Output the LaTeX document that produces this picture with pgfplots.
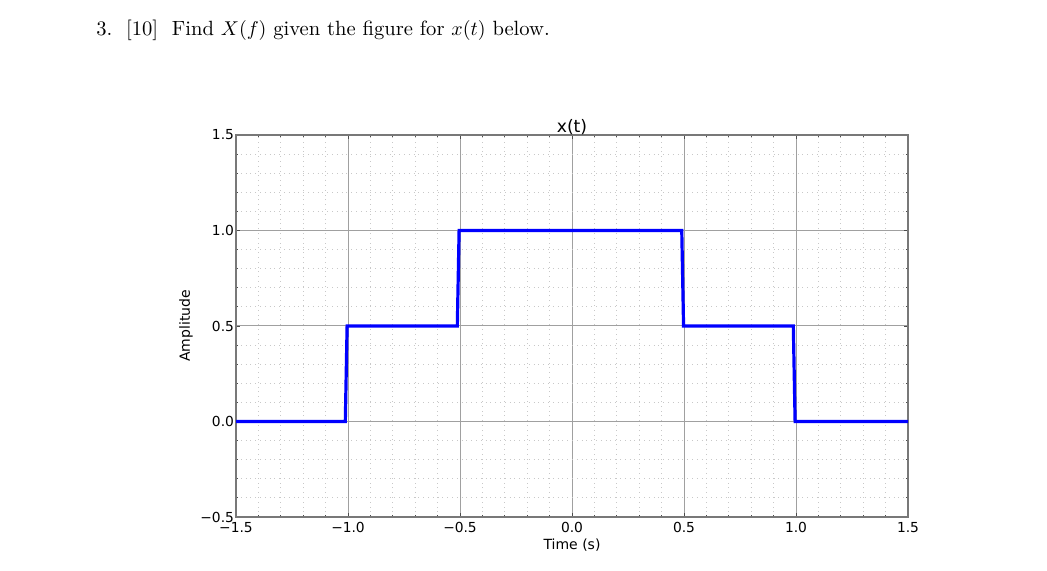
\documentclass[border=0pt]{standalone}
\usepackage{pgfplots}
\pgfplotsset{compat=1.18}
\usepackage{fontspec}
\setmainfont{Latin Modern Roman}
\newfontfamily\dejavu{DejaVu Sans}
\definecolor{majgrid}{RGB}{160,160,160}
\definecolor{mingrid}{RGB}{200,200,200}
\definecolor{frame}{RGB}{120,120,120}
\begin{document}
\begin{tikzpicture}
\path[use as bounding box] (0pt,0pt) rectangle (523.5pt,285.5pt);
\node[anchor=base west,inner sep=0pt,font=\fontsize{10.3pt}{12pt}\selectfont] at (48pt,267.5pt) {3.\ \ [10]\ \ Find $X(f)$ given the figure for $x(t)$ below.};
\begin{axis}[
  at={(118pt,27pt)}, anchor=south west,
  scale only axis, width=336pt, height=191pt,
  xmin=-1.5, xmax=1.5, ymin=-0.5, ymax=1.5,
  xtick={-1.5,-1,-0.5,0,0.5,1,1.5},
  xticklabels={−1.5,−1.0,−0.5,0.0,0.5,1.0,1.5},
  ytick={-0.5,0,0.5,1,1.5},
  yticklabels={−0.5,0.0,0.5,1.0,1.5},
  minor x tick num=4, minor y tick num=4,
  grid=both,
  major grid style={majgrid, line width=0.5pt},
  minor grid style={mingrid, dotted, line width=0.5pt},
  axis line style={frame, line width=0.6pt},
  tick align=inside,
  major tick length=2pt, minor tick length=1pt,
  tick style={black!70, line width=0.4pt},
  ticklabel style={font=\dejavu\fontsize{6.9pt}{8pt}\selectfont},
  yticklabel style={xshift=2.5pt},
  xticklabel style={yshift=1pt},
  title={\dejavu\fontsize{8.6pt}{9pt}\selectfont x(t)},
  title style={at={(0.5,1)}, anchor=base, inner sep=0pt, yshift=-5pt},
  xlabel={\dejavu\fontsize{7pt}{8pt}\selectfont Time (s)},
  ylabel={\dejavu\fontsize{7pt}{8pt}\selectfont Amplitude},
  xlabel style={yshift=3.5pt},
  ylabel style={yshift=-3pt},
]
\addplot[color={rgb,255:red,0;green,0;blue,255}, line width=1.6pt, line join=miter] coordinates {
(-1.5,0) (-1.012,0) (-1.004,0.5) (-0.512,0.5) (-0.504,1)
(0.49,1) (0.498,0.5) (0.988,0.5) (0.996,0) (1.5,0)
};
\end{axis}
\end{tikzpicture}
\end{document}
